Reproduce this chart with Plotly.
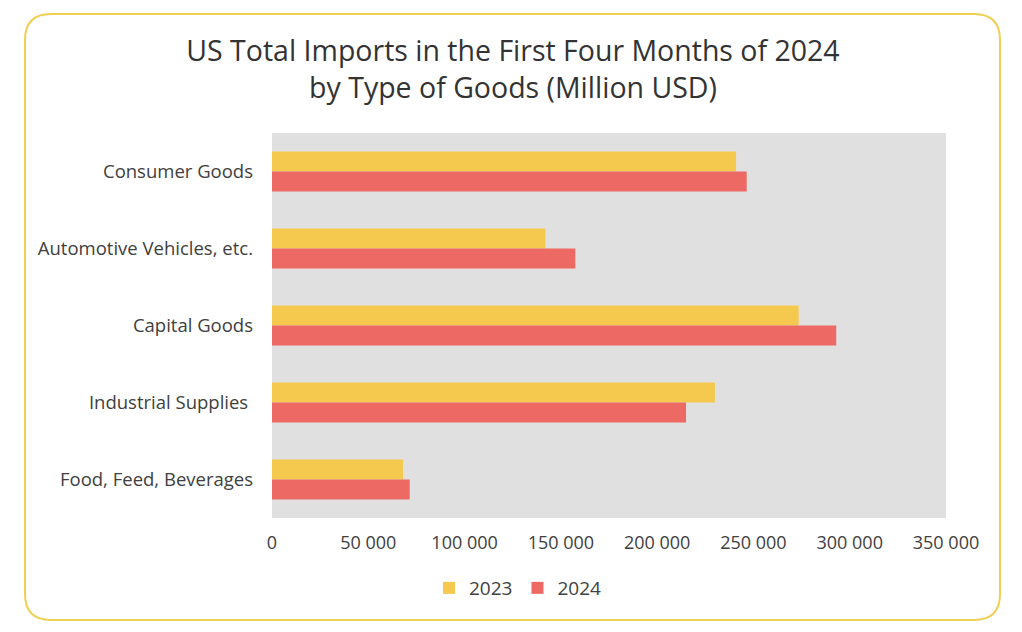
import plotly.graph_objects as go

categories = ["Consumer Goods", "Automotive Vehicles, etc.", "Capital Goods",
              "Industrial Supplies ", "Food, Feed, Beverages"]
values_2023 = [241000, 142000, 273500, 230000, 68000]
values_2024 = [246500, 157500, 293000, 215000, 71500]
series_names = ["2023", "2024"]
tick_values = [0, 50000, 100000, 150000, 200000, 250000, 300000, 350000]

C23 = "#F5C94E"
C24 = "#EC6A63"
FONT = "Open Sans"

fig = go.Figure()
fig.add_trace(go.Bar(y=categories, x=values_2023, name=series_names[0], orientation="h",
                     marker=dict(color=C23, line=dict(width=0))))
fig.add_trace(go.Bar(y=categories, x=values_2024, name=series_names[1], orientation="h",
                     marker=dict(color=C24, line=dict(width=0))))

OFF = 8  # page body margin offset
W, H = 1022, 632
L, T = 272 - OFF, 133 - OFF
R = W - (946 - OFF)
B = H - (518 - OFF)
pw, ph = W - L - R, H - T - B

def px_x(x):
    return (x - OFF - L) / pw

def px_y(y):
    return (H - B - (y - OFF)) / ph

x0, x1 = px_x(25), px_x(1000)
y0, y1 = px_y(620), px_y(14)
rx, ry = 26 / pw, 26 / ph
path = (f"M {x0+rx},{y1} L {x1-rx},{y1} Q {x1},{y1} {x1},{y1-ry} "
        f"L {x1},{y0+ry} Q {x1},{y0} {x1-rx},{y0} L {x0+rx},{y0} "
        f"Q {x0},{y0} {x0},{y0+ry} L {x0},{y1-ry} Q {x0},{y1} {x0+rx},{y1} Z")

fig.update_layout(
    width=W, height=H,
    margin=dict(l=L, r=R, t=T, b=B, autoexpand=False),
    paper_bgcolor="white",
    plot_bgcolor="#E0E0E0",
    barmode="group",
    bargap=0.48,
    bargroupgap=0,
    separators=". ",
    font=dict(family=FONT, color="#404040"),
    title=dict(text="US Total Imports in the First Four Months of 2024<br>by Type of Goods (Million USD)",
               x=(513 - OFF) / W, xref="container", xanchor="center",
               y=1 - 53 / H, yref="container", yanchor="middle",
               font=dict(family=FONT, size=28.5, color="#333333")),
    xaxis=dict(range=[0, 350000], tickvals=tick_values, tickformat=",d",
               showgrid=False, zeroline=False, showline=False, tickangle=0,
               automargin=False,
               tickfont=dict(size=18, color="#404040"), ticklabelstandoff=12,
               fixedrange=True),
    yaxis=dict(autorange="reversed", showgrid=False, showline=False, automargin=False,
               tickfont=dict(size=18.5, color="#404040"), ticklabelstandoff=18,
               fixedrange=True),
    legend=dict(orientation="h", x=px_x(518), xref="paper", xanchor="center",
                y=px_y(588), yref="paper", yanchor="middle", font=dict(size=19, color="#404040"),
                itemwidth=30, tracegroupgap=0),
    showlegend=True,
    shapes=[dict(type="path", path=path, xref="paper", yref="paper",
                 line=dict(color="#F0CF55", width=2), fillcolor="rgba(0,0,0,0)", layer="below")],
)

fig.write_html("out.html")
